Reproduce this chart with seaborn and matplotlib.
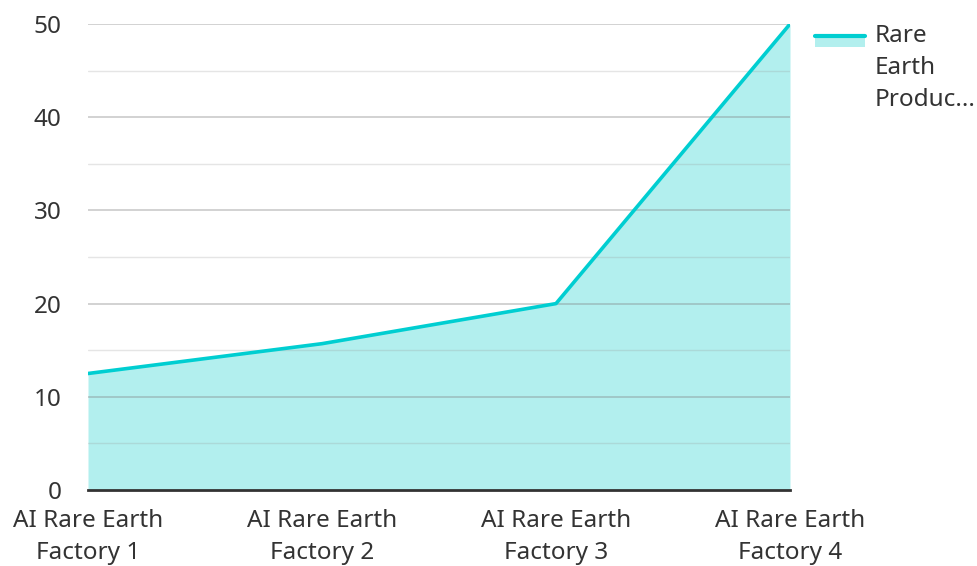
import matplotlib
matplotlib.use("Agg")
import matplotlib.pyplot as plt
import seaborn as sns
import pandas as pd
from matplotlib.patches import Rectangle
from matplotlib.lines import Line2D

categories = ["AI Rare Earth\nFactory 1", "AI Rare Earth\nFactory 2",
              "AI Rare Earth\nFactory 3", "AI Rare Earth\nFactory 4"]
production = [12.5, 15.7, 20, 50]
series_name = "Rare\nEarth\nProduc..."
y_ticks = [0, 10, 20, 30, 40, 50]

sns.set_theme(style="white")
plt.rcParams["font.family"] = ["Noto Sans", "DejaVu Sans"]

W, H = 977, 566
df = pd.DataFrame({"x": range(len(categories)), "value": production})

fig = plt.figure(figsize=(W / 100, H / 100), dpi=100)
ax = fig.add_axes([88 / W, 1 - 490 / H, (790 - 88) / W, (490 - 24) / H])

line_color = "#00CED1"
fill_color = "#B2EFEE"
text_color = "#333333"
fs = 17.5

ax.fill_between(df["x"], 0, df["value"], color=fill_color, lw=0, zorder=1)
sns.lineplot(data=df, x="x", y="value", ax=ax, color=line_color, lw=2.6, zorder=4)

# grid: major every 10, minor every 5
for v in range(5, 51, 10):
    ax.axhline(v, color="#9a9a9a", lw=1, alpha=0.25, zorder=2)
for v in range(10, 51, 10):
    ax.axhline(v, color="#808080", lw=1.1, alpha=0.45, zorder=2)

ax.set_xlim(0, len(categories) - 1)
ax.set_ylim(0, 50)
ax.set_yticks(y_ticks)
ax.set_yticklabels([str(t) for t in y_ticks])
ax.set_xticks(range(len(categories)))
ax.set_xticklabels(categories, linespacing=1.4)
ax.tick_params(axis="both", length=0, labelsize=fs, labelcolor=text_color)
ax.tick_params(axis="y", pad=19)
ax.tick_params(axis="x", pad=14)
ax.set_xlabel("")
ax.set_ylabel("")

for side in ["top", "right", "left"]:
    ax.spines[side].set_visible(False)
ax.spines["bottom"].set_color(text_color)
ax.spines["bottom"].set_linewidth(2)
ax.spines["bottom"].set_zorder(5)

# legend: swatch aligned with the first label line
fig.add_artist(Rectangle((815 / W, 1 - 47 / H), 50 / W, 12 / H,
                         transform=fig.transFigure, facecolor=fill_color,
                         edgecolor="none"))
fig.add_artist(Line2D([815 / W, 865 / W], [1 - 36 / H, 1 - 36 / H],
                      transform=fig.transFigure, color=line_color, lw=3))
fig.text(875 / W, 1 - 24 / H, series_name, ha="left", va="top",
         fontsize=fs, color=text_color, linespacing=1.45)

fig.savefig("out.png", dpi=100)
